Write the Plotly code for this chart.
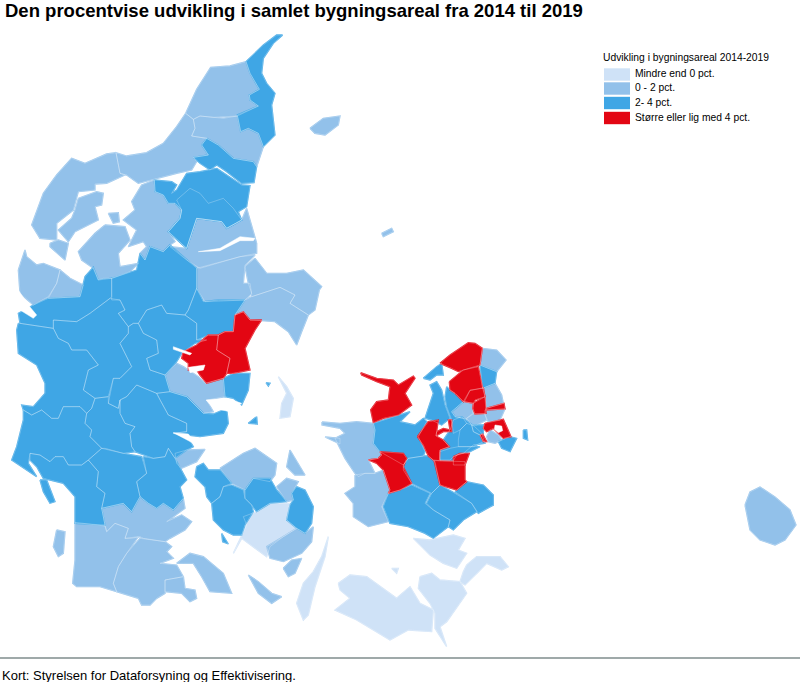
import plotly.graph_objects as go

kategorier = ["Mindre end 0 pct.", "0 - 2 pct.", "2- 4 pct.", "Større eller lig med 4 pct."]
farver = ["#CFE2F7", "#92C1EA", "#3FA6E5", "#E30613"]
legend_titel = "Udvikling i bygningsareal 2014-2019"
titel = "Den procentvise udvikling i samlet bygningsareal fra 2014 til 2019"
kilde = "Kort: Styrelsen for Dataforsyning og Effektivisering."

# kommuner aflaest fra kortet: (kategori, omrids), hver landsdel i sit eget udsnit
nordjylland = [
    (2, [(848,15),(820,40),(790,85),(785,130),(800,160),(825,190),(815,225),(825,315),(790,350),(775,310),(745,295),(722,305),(712,255),(775,228),(750,210),(748,195),(778,178),(750,130),(738,95),(790,45),(830,15)]),
    (1, [(738,95),(690,108),(632,112),(590,178),(557,250),(580,268),(600,258),(640,262),(670,265),(712,258),(775,228),(750,210),(748,195),(778,178),(750,130)]),
    (1, [(580,268),(600,258),(640,262),(712,258),(722,305),(745,295),(775,310),(790,350),(770,410),(760,395),(700,385),(655,345),(620,325),(575,318),(585,295)]),
    (1, [(557,250),(580,268),(585,295),(575,318),(620,325),(605,345),(625,375),(580,382),(590,395),(575,420),(530,430),(430,455),(415,460),(380,435),(360,430),(348,368),(380,378),(440,368),(490,340),(530,290)]),
    (2, [(620,325),(655,345),(700,385),(760,395),(770,410),(762,458),(725,460),(680,425),(650,405),(630,420),(600,400),(580,382),(625,375),(605,345)]),
    (2, [(650,415),(680,435),(725,465),(750,467),(740,530),(715,545),(725,570),(680,595),(665,575),(590,565),(575,610),(560,655),(505,605),(540,565),(545,540),(525,520),(505,520),(490,495),(465,485),(463,450),(515,455),(530,465),(515,490),(530,480),(560,430),(600,425)]),
    (2, [(530,510),(570,475),(600,490),(625,520),(670,505),(700,535),(725,570),(680,595),(665,575),(590,565),(575,610),(560,655),(505,605),(540,565),(545,540)]),
    (1, [(348,368),(360,430),(375,435),(320,460),(285,462),(285,480),(235,485),(220,540),(170,580),(170,630),(120,625),(100,590),(95,585),(130,490),(170,435),(215,385),(255,400),(320,372)]),
    (1, [(235,505),(290,485),(310,490),(305,525),(285,530),(295,570),(225,605),(205,635),(175,600),(215,565),(225,540)]),
    (1, [(325,550),(355,548),(358,575),(340,580)]),
    (1, [(315,585),(375,590),(390,630),(355,670),(360,710),(405,700),(415,700),(390,725),(335,745),(310,745),(295,750),(280,715),(245,690),(235,665),(285,610)]),
    (1, [(150,640),(175,630),(205,640),(195,690),(150,650)]),
    (1, [(55,720),(75,660),(80,680),(110,705),(130,700),(180,720),(170,760),(145,800),(100,825),(60,790)]),
    (1, [(180,720),(210,745),(250,765),(240,800),(145,805),(170,760)]),
    (1, [(463,450),(465,485),(490,495),(505,520),(525,520),(545,540),(540,565),(505,605),(525,635),(510,645),(490,665),(450,650),(435,690),(420,670),(440,650),(430,635),(385,650),(410,600),(370,570),(405,540),(395,515),(425,465)]),
    (1, [(590,565),(665,575),(680,595),(725,570),(740,535),(765,625),(770,640),(770,670),(720,680),(600,715),(560,690),(510,650),(560,655),(575,610)]),
    (1, [(590,715),(720,680),(765,675),(735,705),(730,760),(750,760),(755,790),(735,810),(615,815),(590,775)]),
    (1, [(1145,610),(1175,595),(1180,605),(1150,620)]),
    (1, [(930,295),(970,265),(1020,258),(1015,285),(975,315),(945,310)]),
]

midtjylland = [
    (1, [(765,-95),(800,-50),(860,-50),(910,-60),(965,-10),(958,0),(945,60),(925,75),(870,40),(885,15),(840,-8),(755,20),(755,10),(745,-20),(735,-70)]),
    (1, [(735,30),(755,20),(840,-8),(885,15),(870,40),(925,75),(905,125),(890,165),(865,125),(825,95),(785,92),(750,90),(730,65),(705,75)]),
    (2, [(100,45),(145,25),(240,20),(255,-40),(280,-68),(295,-30),(335,-35),(335,20),(330,25),(270,70),(230,95),(160,90),(160,115),(60,100),(55,70)]),
    (2, [(335,-35),(410,-60),(420,-110),(435,-90),(450,-130),(490,-115),(510,-135),(560,-90),(590,-65),(590,-5),(565,60),(555,75),(500,70),(485,45),(440,60),(415,100),(400,100),(385,110),(355,70),(375,60),(360,30),(335,30)]),
    (2, [(590,-5),(610,35),(655,30),(735,30),(705,75),(700,125),(675,125),(655,135),(625,135),(590,150),(590,100),(555,75),(565,60)]),
    (2, [(415,100),(440,60),(485,45),(500,70),(555,75),(590,100),(590,150),(620,150),(585,160),(545,190),(530,215),(495,255),(450,240),(440,205),(475,190),(470,150),(430,130)]),
    (2, [(385,110),(400,100),(415,100),(430,130),(470,150),(475,190),(440,205),(450,240),(495,255),(510,305),(470,310),(410,285),(380,320),(360,330),(355,355),(325,340),(340,265),(360,265),(395,230),(360,160),(385,130)]),
    (2, [(55,100),(60,100),(160,115),(175,145),(205,160),(215,180),(260,180),(295,225),(265,240),(250,300),(285,325),(275,355),(260,370),(240,350),(190,350),(175,385),(155,385),(125,360),(95,375),(70,360),(65,345),(100,350),(135,310),(135,280),(110,225),(55,190),(50,120)]),
    (2, [(160,115),(160,90),(230,95),(270,70),(330,25),(360,30),(375,60),(355,70),(385,110),(385,130),(360,160),(395,230),(360,265),(340,265),(325,320),(285,325),(250,300),(265,240),(295,225),(260,180),(215,180),(205,160),(175,145)]),
    (2, [(70,360),(95,375),(125,360),(155,385),(175,385),(190,350),(240,350),(260,370),(255,400),(275,420),(270,440),(305,475),(265,510),(245,525),(205,525),(190,500),(165,500),(150,515),(120,495),(90,490),(85,520),(110,560),(35,510),(50,470),(70,390)]),
    (2, [(260,370),(275,355),(285,325),(325,320),(325,340),(355,355),(360,330),(360,370),(375,400),(405,410),(390,430),(395,470),(405,485),(370,490),(315,475),(305,475),(270,440),(275,420),(255,400)]),
    (2, [(360,330),(380,320),(410,285),(470,310),(480,330),(505,375),(560,400),(560,425),(520,430),(565,445),(580,470),(560,480),(525,505),(505,475),(495,500),(460,505),(405,485),(395,470),(390,430),(405,410),(375,400),(360,370)]),
    (2, [(470,310),(510,305),(560,320),(610,370),(640,372),(680,355),(685,400),(670,430),(600,440),(520,430),(560,425),(560,400),(505,375),(480,330)]),
    (1, [(495,255),(530,220),(550,230),(595,260),(615,280),(670,265),(675,320),(620,330),(640,365),(610,370),(560,320),(510,305)]),
    (2, [(670,265),(700,250),(750,250),(745,300),(725,345),(700,325),(675,320)]),
    (3, [(655,135),(625,135),(590,165),(550,185),(545,205),(565,220),(565,240),(590,240),(600,255),(620,280),(670,265),(680,250),(690,205),(650,180)]),
    (3, [(705,75),(730,65),(750,90),(785,90),(765,120),(735,175),(750,240),(700,250),(680,250),(690,205),(650,180),(655,135),(675,125),(700,125)]),
    (2, [(265,510),(305,475),(370,490),(425,500),(440,550),(410,575),(420,620),(395,665),(370,640),(345,645),(305,655),(315,610),(290,590),(295,545)]),
    (2, [(430,500),(460,505),(495,500),(505,475),(525,505),(560,570),(540,590),(550,625),(520,660),(490,640),(470,655),(445,640),(420,620),(410,575),(440,550)]),
    (2, [(90,490),(120,495),(150,515),(165,500),(190,500),(205,525),(245,525),(265,510),(295,545),(290,590),(315,610),(305,655),(315,705),(225,700),(225,620),(190,580),(130,565),(110,530),(90,510)]),
    (2, [(120,570),(140,570),(165,635),(150,640),(130,605)]),
    (1, [(525,490),(560,480),(615,478),(590,515),(545,535),(530,520)]),
    (1, [(305,655),(345,645),(370,640),(395,665),(420,620),(445,640),(470,655),(490,640),(520,660),(550,625),(555,655),(500,695),(545,675),(575,695),(555,720),(510,745),(495,755),(430,745),(420,740),(395,745),(375,745),(385,715),(345,700),(320,725),(315,705)]),
    (1, [(225,697),(315,708),(320,725),(345,700),(385,715),(375,745),(415,740),(380,790),(355,830),(340,880),(350,905),(300,890),(230,890),(218,880),(225,810)]),
    (1, [(420,745),(495,755),(515,770),(500,785),(520,805),(480,820),(530,825),(550,860),(495,870),(495,910),(470,925),(450,945),(425,945),(415,925),(350,905),(340,880),(355,830),(380,790)]),
    (1, [(530,820),(570,790),(610,800),(670,850),(695,910),(630,905),(605,860),(580,820),(550,820)]),
    (1, [(550,860),(555,895),(585,900),(590,925),(570,935),(545,910),(495,905),(495,870)]),
    (1, [(170,720),(195,725),(190,790),(175,800),(160,770)]),
    (2, [(590,530),(610,520),(625,540),(660,540),(695,580),(670,590),(660,620),(635,640),(620,620),(615,590),(585,560)]),
    (2, [(665,730),(685,762),(668,755)]),
    (2, [(798,278),(810,280),(805,288)]),
    (2, [(770,380),(772,402),(745,400)]),
    (1, [(660,535),(730,490),(765,475),(800,500),(830,520),(825,555),(810,575),(760,565),(735,600),(695,580)]),
    (2, [(695,585),(730,600),(735,625),(755,645),(760,665),(735,705),(725,735),(700,735),(670,720),(640,690),(635,640),(660,620),(670,590)]),
    (2, [(735,600),(760,565),(810,565),(830,600),(860,635),(810,640),(770,665),(755,645),(735,625)]),
    (1, [(830,590),(860,565),(895,575),(875,610),(880,630),(860,635)]),
    (1, [(870,480),(915,555),(885,555),(860,530)]),
    (2, [(890,590),(915,600),(940,650),(935,700),(915,730),(890,715),(860,690),(870,645),(880,630),(875,610)]),
    (0, [(730,680),(770,665),(810,640),(870,640),(860,690),(890,715),(850,740),(810,770),(800,800),(765,775),(725,745),(700,790),(725,735),(740,705)]),
    (1, [(940,710),(935,755),(905,790),(850,815),(810,805),(800,770),(850,740),(890,715),(915,730)]),
    (0, [(835,260),(860,290),(880,325),(870,380),(840,385),(845,340),(860,310)]),
]

sjaelland = [
    (3, [(62,128),(110,145),(160,150),(175,165),(220,138),(225,145),(195,190),(215,225),(175,255),(130,265),(100,278),(92,240),(110,215),(145,210),(150,170),(110,155),(65,135)]),
    (2, [(100,280),(175,255),(210,245),(180,275),(225,285),(250,265),(260,275),(235,320),(255,365),(250,378),(205,385),(190,405),(120,365),(100,340),(105,300)]),
    (1, [(-54,276),(0,280),(50,275),(100,280),(105,300),(100,340),(125,375),(115,385),(85,390),(105,430),(75,430),(55,440),(45,430),(15,385),(-15,325),(15,310),(0,295),(-54,285)]),
    (1, [(-45,321),(0,325),(0,342)]),
    (1, [(45,435),(75,430),(105,430),(130,420),(150,480),(125,530),(145,575),(85,590),(40,560),(40,520),(15,490),(45,470)]),
    (3, [(85,390),(115,385),(125,375),(120,365),(190,370),(200,385),(190,410),(215,460),(180,480),(145,490),(150,480),(130,420),(110,400)]),
    (2, [(190,405),(205,385),(250,378),(265,378),(285,395),(300,465),(275,490),(215,460),(190,420)]),
    (3, [(282,392),(345,395),(375,395),(375,450),(380,455),(350,480),(300,465)]),
    (2, [(145,490),(180,480),(215,465),(270,490),(255,520),(280,540),(330,570),(325,590),(280,625),(255,610),(205,590),(150,580),(130,530)]),
    (2, [(275,490),(300,465),(345,490),(395,520),(410,545),(370,570),(340,600),(325,590),(330,570),(280,540),(260,520)]),
    (2, [(345,485),(380,455),(430,465),(460,495),(460,525),(415,550),(395,520)]),
    (2, [(265,235),(280,190),(270,165),(290,155),(305,180),(315,225),(330,265),(305,285),(275,270),(255,265)]),
    (2, [(250,145),(290,110),(305,100),(310,135),(290,135),(270,150)]),
    (2, [(300,392),(300,360),(328,350),(310,330),(330,300),(340,270),(365,260),(385,275),(410,295),(425,310),(435,340),(400,345),(370,370),(350,375),(340,392)]),
    (3, [(232,320),(265,275),(295,270),(288,318),(310,330),(328,350),(300,360),(298,392),(280,390),(265,378),(250,345)]),
    (3, [(290,305),(310,295),(330,300),(325,270),(335,270),(335,305),(310,305),(288,318)]),
]

hovedstaden = [
    (3, [(30,70),(60,45),(115,8),(135,10),(157,25),(150,75),(100,90),(85,95),(65,85),(55,80)]),
    (1, [(157,25),(200,30),(228,60),(200,95),(150,75)]),
    (2, [(150,75),(200,95),(195,130),(158,145)]),
    (3, [(58,125),(100,90),(145,80),(158,145),(120,150),(100,185),(75,160),(60,150)]),
    (3, [(103,185),(120,152),(160,143),(165,170),(135,180),(130,190)]),
    (3, [(130,190),(165,170),(168,220),(135,222),(128,205)]),
    (1, [(158,145),(195,130),(215,165),(220,190),(170,205),(165,170)]),
    (3, [(168,205),(222,190),(225,207),(168,210)]),
    (2, [(50,140),(60,150),(75,160),(100,185),(65,215),(75,230),(100,235),(110,250),(90,270),(70,280),(65,240),(50,200),(45,170)]),
    (1, [(65,215),(100,185),(130,190),(128,220),(110,235),(100,235),(75,230)]),
    (1, [(110,235),(130,222),(165,222),(170,240),(140,255),(125,255)]),
    (1, [(165,210),(225,207),(210,240),(175,245),(165,225)]),
    (3, [(165,250),(220,238),(243,290),(220,295),(205,280),(190,265),(170,275),(160,265)]),
    (3, [(150,285),(158,282),(170,305),(160,305)]),
    (1, [(170,290),(180,270),(205,285),(215,300),(195,310),(175,305)]),
    (2, [(205,305),(240,290),(260,295),(240,335),(215,325)]),
    (2, [(280,270),(290,270),(293,300),(280,295)]),
    (2, [(125,255),(140,255),(160,255),(160,280),(150,285),(130,275)]),
    (2, [(85,300),(90,270),(110,250),(125,255),(130,275),(150,285),(160,305),(130,320),(110,320),(85,320)]),
    (2, [(30,360),(30,335),(60,325),(85,320),(130,320),(150,320),(120,335),(95,340),(70,350),(60,360)]),
    (3, [(70,350),(90,340),(118,340),(105,375),(70,375)]),
]

sydhavet = [
    (0, [(385,290),(365,350),(340,395),(310,430),(290,490),(310,540),(325,525),(345,440),(375,350)]),
    (1, [(250,385),(275,360),(305,355),(285,400),(265,410)]),
    (1, [(145,405),(175,425),(215,460),(245,470),(215,490),(175,460)]),
    (0, [(640,295),(690,300),(760,285),(795,295),(775,330),(800,340),(770,385),(730,370),(690,345)]),
    (0, [(800,375),(830,350),(900,350),(925,380),(905,390),(860,370),(835,395),(795,435),(780,425),(790,395)]),
    (0, [(660,410),(695,400),(720,420),(780,425),(800,460),(740,545),(720,560),(740,620),(705,565),(705,520),(690,490),(655,445)]),
    (0, [(415,430),(450,405),(500,410),(570,460),(590,475),(630,440),(660,490),(700,510),(695,575),(625,570),(570,600),(470,540),(405,510),(450,475),(420,450)]),
    (0, [(575,385),(595,385),(590,400)]),
]

# Bornholm i kortets egne enheder
bornholm = [
    (1, [(745,505),(750,492),(760,487),(775,497),(790,510),(796,525),(785,540),(775,545),(760,540),(750,530)]),
]

# fjorde og soeer som gaar gennem kommunerne
vand_nord = [
    [(595,665),(660,655),(720,620),(765,625),(760,632),(720,632),(660,662)],
]
vand_midt = [
    [(55,0),(60,60),(100,85),(110,75),(85,45),(60,10)],
    [(520,170),(575,190),(570,195),(520,178)],
    [(565,232),(615,225),(610,240),(570,248)],
    [(618,330),(680,325),(725,340),(690,365),(640,355)],
    [(520,428),(565,432),(590,465),(560,450)],
]
vand_hoved = [
    [(195,255),(215,258),(218,272),(205,278),(193,268)],
]

# signaturforklaring: raekkernes midterlinje paa billedet
legend_y = [74.5, 88.5, 103, 118]


def flyt(polygoner, dx, dy):
    return [[(x / 3 + dx, y / 3 + dy) for x, y in p] for p in polygoner]


def kun(liste, kat):
    return [p for k, p in liste if k == kat]


def spor(polygoner):
    xs, ys = [], []
    for p in polygoner:
        xs += [a for a, b in p] + [p[0][0], None]
        ys += [b for a, b in p] + [p[0][1], None]
    return xs, ys


fig = go.Figure()

grupper = []
for i, navn in enumerate(kategorier):
    polygoner = (flyt(kun(nordjylland, i), 0, 30) + flyt(kun(midtjylland, i), 0, 290)
                 + flyt(kun(sjaelland, i), 340, 330) + flyt(kun(hovedstaden, i), 430, 340)
                 + flyt(kun(sydhavet, i), 200, 440) + kun(bornholm, i))
    grupper.append(polygoner)
    xs, ys = spor(polygoner)
    # kant i samme farve lukker smaa huller mellem nabokommuner
    fig.add_trace(go.Scatter(
        x=xs, y=ys, name=navn, mode="lines", fill="toself", fillcolor=farver[i],
        line=dict(color=farver[i], width=1.3), hoverinfo="skip", showlegend=False,
    ))

for polygoner in grupper:
    xs, ys = spor(polygoner)
    fig.add_trace(go.Scatter(
        x=xs, y=ys, mode="lines", line=dict(color="rgba(255,255,255,0.5)", width=0.5),
        hoverinfo="skip", showlegend=False,
    ))

xs, ys = spor(flyt(vand_nord, 0, 30) + flyt(vand_midt, 0, 290) + flyt(vand_hoved, 430, 340))
fig.add_trace(go.Scatter(
    x=xs, y=ys, mode="lines", fill="toself", fillcolor="white",
    line=dict(color="white", width=0.5), hoverinfo="skip", showlegend=False,
))

annoteringer = [
    dict(text="<b>" + titel + "</b>", x=3, y=10, xanchor="left", yanchor="middle", showarrow=False,
         font=dict(size=18.5, color="#000000")),
    dict(text=kilde, x=0, y=675, xanchor="left", yanchor="middle", showarrow=False,
         font=dict(size=13, color="#000000")),
    dict(text=legend_titel, x=601, y=57, xanchor="left", yanchor="middle", showarrow=False,
         font=dict(size=10.3, color="#000000")),
]
former = [dict(type="line", x0=0, x1=800, y0=658, y1=658, line=dict(color="#7F8C8D", width=1.5))]
for i, navn in enumerate(kategorier):
    former.append(dict(type="rect", x0=604, x1=630, y0=legend_y[i] - 6.2, y1=legend_y[i] + 6.2,
                       fillcolor=farver[i], line=dict(width=0)))
    annoteringer.append(dict(text=navn, x=633, y=legend_y[i] - 1, xanchor="left", yanchor="middle",
                             showarrow=False, font=dict(size=10.3, color="#000000")))

fig.update_layout(
    width=800, height=682, autosize=False,
    margin=dict(l=0, r=0, t=0, b=0),
    paper_bgcolor="white", plot_bgcolor="white",
    xaxis=dict(range=[0, 800], visible=False, fixedrange=True),
    yaxis=dict(range=[682, 0], visible=False, fixedrange=True),
    font=dict(family="Liberation Sans", color="#000000"),
    showlegend=False,
    annotations=annoteringer,
    shapes=former,
)

fig.write_html("out.html", config=dict(displayModeBar=False),
               post_script="document.body.style.margin='0';document.body.style.overflow='hidden';")
